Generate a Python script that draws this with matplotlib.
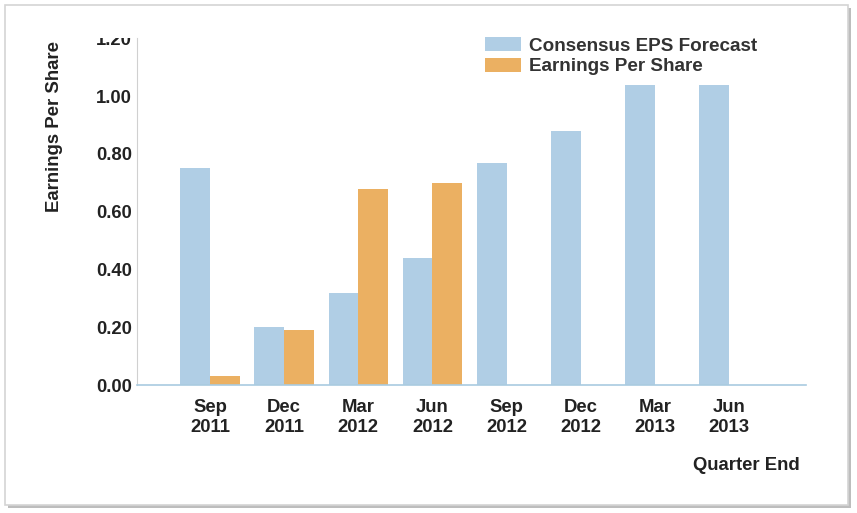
"""
eps_chart.py — Consensus EPS forecast vs reported EPS by quarter
"""

import numpy as np
import matplotlib
matplotlib.use('Agg')
import matplotlib.pyplot as plt
from matplotlib.patches import Rectangle
from matplotlib.transforms import Bbox, TransformedBbox

plt.rcParams['font.family'] = ['Liberation Sans', 'DejaVu Sans']
plt.rcParams['font.weight'] = 'bold'

# data
quarters = ['Sep\n2011', 'Dec\n2011', 'Mar\n2012', 'Jun\n2012',
            'Sep\n2012', 'Dec\n2012', 'Mar\n2013', 'Jun\n2013']
consensus_eps = [0.75, 0.20, 0.32, 0.44, 0.77, 0.88, 1.04, 1.04]
actual_eps = [0.03, 0.19, 0.68, 0.70, np.nan, np.nan, np.nan, np.nan]
y_ticks = [0.0, 0.2, 0.4, 0.6, 0.8, 1.0, 1.2]

BLUE = '#B0CEE5'
ORANGE = '#EBB062'
TEXT = '#222222'

W, H = 857, 513
fig = plt.figure(figsize=(W / 100, H / 100), dpi=100)

# screenshot-style frame with a soft shadow
fig.patches.append(Rectangle((8 / W, 1 - 508 / H), 843 / W, 500 / H,
                             transform=fig.transFigure, facecolor='#bdbdbd',
                             edgecolor='none', zorder=-3))
fig.patches.append(Rectangle((5 / W, 1 - 505 / H), 843 / W, 500 / H,
                             transform=fig.transFigure, facecolor='white',
                             edgecolor='#d4d4d4', linewidth=1.2, zorder=-2))

ax = fig.add_axes([137 / W, 1 - 385 / H, (806 - 137) / W, (385 - 38.4) / H])
ax.patch.set_alpha(0)

x = np.arange(len(quarters))
width = 0.4
ax.bar(x - width / 2, consensus_eps, width, color=BLUE, label='Consensus EPS Forecast')
ax.bar(x + width / 2, actual_eps, width, color=ORANGE, label='Earnings Per Share')

ax.set_xlim(-0.985, 8.04)
ax.set_ylim(0, 1.2)
ax.set_yticks(y_ticks)
ax.set_yticklabels([f'{v:.2f}' for v in y_ticks])
ax.set_xticks(x)
ax.set_xticklabels(quarters, linespacing=1.25)

for side in ['top', 'right']:
    ax.spines[side].set_visible(False)
ax.spines['left'].set_color('#d0d0d0')
ax.spines['bottom'].set_color('#a9cbe0')
ax.spines['bottom'].set_linewidth(1.2)

ax.tick_params(axis='y', length=0, pad=3.5, labelsize=13.3, labelcolor=TEXT)
ax.tick_params(axis='x', length=0, pad=10, labelsize=13.3, labelcolor=TEXT)

# the top tick label is cut off by the plot edge in the original
clip = TransformedBbox(Bbox([[-0.5, -0.5], [1.0, 1.0]]), ax.transAxes)
for t in ax.yaxis.get_major_ticks():
    t.label1.set_clip_on(True)
    t.label1.set_clip_box(clip)

fig.text(55 / W, 1 - 126 / H, 'Earnings Per Share', rotation=90,
         ha='center', va='center', fontsize=13.4, color=TEXT)
fig.text(800 / W, 1 - 465 / H, 'Quarter End', ha='right', va='center',
         fontsize=13.3, color=TEXT)

ax.legend(loc='upper left', bbox_to_anchor=(485 / W, 1 - 37 / H),
          bbox_transform=fig.transFigure, frameon=False, fontsize=13.6,
          borderpad=0, borderaxespad=0, handlelength=1.9, handleheight=0.8,
          handletextpad=0.45, labelspacing=0.15, labelcolor='#333333')

plt.savefig('out.png', dpi=100)
plt.close()
